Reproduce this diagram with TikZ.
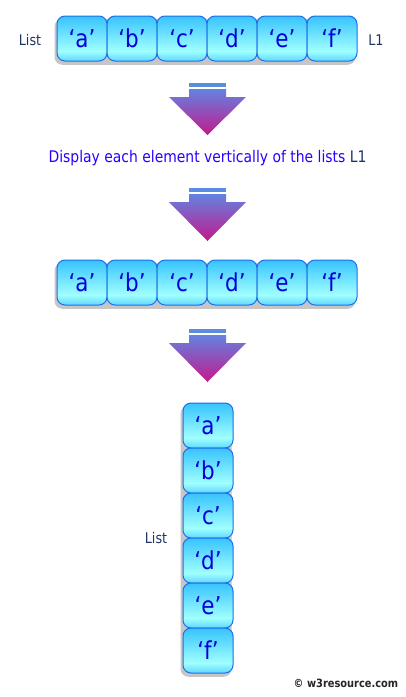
\documentclass[tikz,border=0pt]{standalone}
\usepackage{fontspec}
\setmainfont{DejaVu Sans}[FakeStretch=0.87]
\usetikzlibrary{shadows,backgrounds}

\definecolor{elemtop}{RGB}{55,195,255}
\definecolor{elemmid}{RGB}{160,255,255}
\definecolor{elembot}{RGB}{95,215,255}
\definecolor{elemline}{RGB}{30,110,235}
\definecolor{elemtext}{RGB}{0,0,220}
\definecolor{navy}{RGB}{30,50,100}
\definecolor{msgblue}{RGB}{40,0,255}
\definecolor{arrtop}{RGB}{100,130,225}
\definecolor{arrbot}{RGB}{195,25,140}
\definecolor{arrbar}{RGB}{90,140,225}

\pgfdeclareverticalshading{elemshade}{100bp}{color(0bp)=(elembot); color(25bp)=(elembot);
  color(36bp)=(elemmid); color(75bp)=(elemtop); color(100bp)=(elemtop)}

\tikzset{every picture/.style={line width=0.75pt}}
\tikzset{
  elem/.style={draw=elemline, shading=elemshade,
    rounded corners=6pt, minimum width=37.5pt, minimum height=33.75pt, inner sep=0pt,
    text=elemtext, font=\fontsize{18.5}{18.5}\selectfont},
  lbl/.style={text=navy, inner sep=0.75pt, font=\fontsize{11}{13}\selectfont},
  elemshadow/.style={drop shadow={shadow xshift=-1.5pt, shadow yshift=-2.5pt, opacity=0.45}, rounded corners=6pt},
  arrow body/.style={top color=arrtop, bottom color=arrbot},
}

\begin{document}
\begin{tikzpicture}[x=0.75pt,y=0.75pt,yscale=-1,xscale=1]
\useasboundingbox (0,0) rectangle (405,697);

% Top list
\node [elem] (t1) at (82,38.5) {‘a’};
\node [elem] (t2) at (132,38.5) {‘b’};
\node [elem] (t3) at (182,38.5) {‘c’};
\node [elem] (t4) at (232,38.5) {‘d’};
\node [elem] (t5) at (282,38.5) {‘e’};
\node [elem] (t6) at (332,38.5) {‘f’};
% Text Node
\node [lbl] (tlist) at (30,40) {List};
% Text Node
\node [lbl] (tname) at (376,40) {L1};

%Shape: Down Arrow
\fill [arrbar] (189,83) rectangle (226,86.5) ;
\shade [arrow body] (189,89) -- (226,89) -- (226,97) -- (246,97) -- (207.5,135) -- (169,97) -- (189,97) -- cycle ;

% Text Node
\node [inner sep=0.75pt, font=\fontsize{12}{14}\selectfont] (msg) at (207.5,158)
  {\textcolor{msgblue}{Display each element vertically of the lists} \textcolor{navy}{L1}};

%Shape: Down Arrow
\fill [arrbar] (189,188) rectangle (226,191.5) ;
\shade [arrow body] (189,194) -- (226,194) -- (226,202) -- (246,202) -- (207.5,241) -- (169,202) -- (189,202) -- cycle ;

% Middle list
\node [elem] (m1) at (82,282.5) {‘a’};
\node [elem] (m2) at (132,282.5) {‘b’};
\node [elem] (m3) at (182,282.5) {‘c’};
\node [elem] (m4) at (232,282.5) {‘d’};
\node [elem] (m5) at (282,282.5) {‘e’};
\node [elem] (m6) at (332,282.5) {‘f’};

%Shape: Down Arrow
\fill [arrbar] (189,329) rectangle (226,332.5) ;
\shade [arrow body] (189,335) -- (226,335) -- (226,343) -- (246,343) -- (207.5,382) -- (169,343) -- (189,343) -- cycle ;

% Vertical list
\node [elem] (v1) at (208,425.5) {‘a’};
\node [elem] (v2) at (208,470.5) {‘b’};
\node [elem] (v3) at (208,515.5) {‘c’};
\node [elem] (v4) at (208,560.5) {‘d’};
\node [elem] (v5) at (208,605.5) {‘e’};
\node [elem] (v6) at (208,650.5) {‘f’};
% Text Node
\node [lbl] (vlist) at (156,538) {List};

% Text Node
\node [inner sep=0.75pt, text=black!85, font=\fontsize{8.5}{10}\selectfont\bfseries] (copy) at (346,683) {\textcopyright{} w3resource.com};

% shadows behind the lists
\begin{scope}[on background layer]
\path [elemshadow] (t1.north west) rectangle (t6.south east) ;
\path [elemshadow] (m1.north west) rectangle (m6.south east) ;
\path [elemshadow] (v1.north west) rectangle (v6.south east) ;
\end{scope}

\end{tikzpicture}
\end{document}
